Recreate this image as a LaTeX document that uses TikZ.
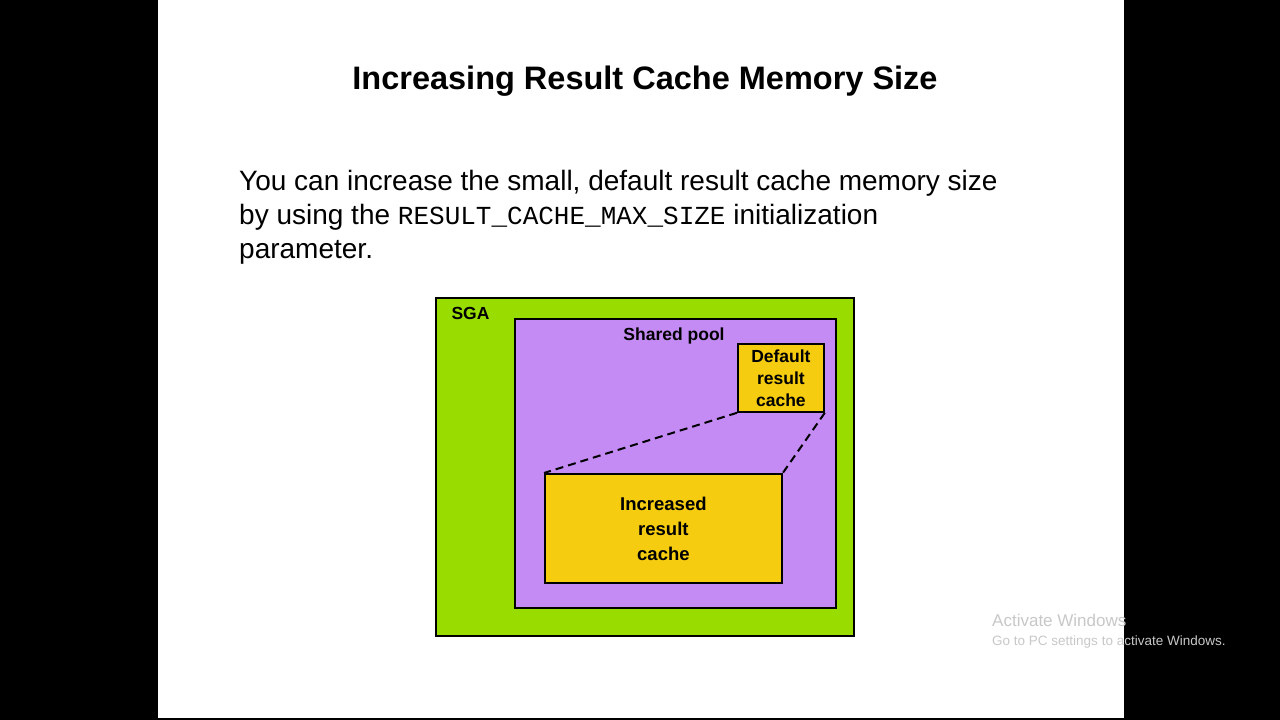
\documentclass[tikz,border=0pt]{standalone}
\usepackage{fontspec}
\setmainfont{Liberation Sans}
\setmonofont{Liberation Mono}
\begin{document}
\begin{tikzpicture}[x=1pt,y=-1pt,
  box/.style={draw=black,line width=1.8pt},
  lbl/.style={font=\bfseries\fontsize{17.5}{22}\selectfont,align=center}]
\useasboundingbox (0,0) rectangle (1280,720);
\fill[black] (0,0) rectangle (1280,720);
\fill[white] (158,0) rectangle (1124,718);
\node[font=\bfseries\fontsize{32.5}{38}\selectfont] (title) at (645,81) {Increasing Result Cache Memory Size};
\node[anchor=north west,align=left,font=\fontsize{28}{34}\selectfont,inner sep=0pt] (body) at (239,170)
 {You can increase the small, default result cache memory size\\
  by using the {\ttfamily\fontsize{26}{34}\selectfont RESULT\_CACHE\_MAX\_SIZE} initialization\\
  parameter.};
\node[box,fill={rgb,255:red,153;green,221;blue,0},minimum width=418,minimum height=338,anchor=north west] (sga) at (435,297) {};
\node[lbl,anchor=north west] (sgal) at (448,304) {SGA};
\node[box,fill={rgb,255:red,197;green,139;blue,245},minimum width=321,minimum height=289,anchor=north west] (sp) at (514,318) {};
\node[lbl,anchor=north] (spl) at (674,324) {Shared pool};
\node[box,fill={rgb,255:red,245;green,204;blue,16},minimum width=86,minimum height=68,anchor=north west,lbl,inner sep=0pt] (drc) at (737,343) {Default\\result\\cache};
\node[box,fill={rgb,255:red,245;green,204;blue,16},minimum width=237,minimum height=109,anchor=north west,lbl,inner sep=0pt,font=\bfseries\fontsize{18.5}{25}\selectfont] (irc) at (544,473) {Increased\\result\\cache};
\draw[line width=2pt,dash pattern=on 8pt off 5pt] (drc.south west) -- (irc.north west);
\draw[line width=2pt,dash pattern=on 8pt off 5pt] (drc.south east) -- (irc.north east);
\node[anchor=west,text={rgb,255:red,200;green,200;blue,200},font=\fontsize{17}{18}\selectfont,inner sep=0pt] (aw) at (992,620) {Activate Windows};
\node[anchor=west,text={rgb,255:red,200;green,200;blue,200},font=\fontsize{13.5}{14}\selectfont,inner sep=0pt] (aw2) at (992,642) {Go to PC settings to activate Windows.};
\end{tikzpicture}
\end{document}
